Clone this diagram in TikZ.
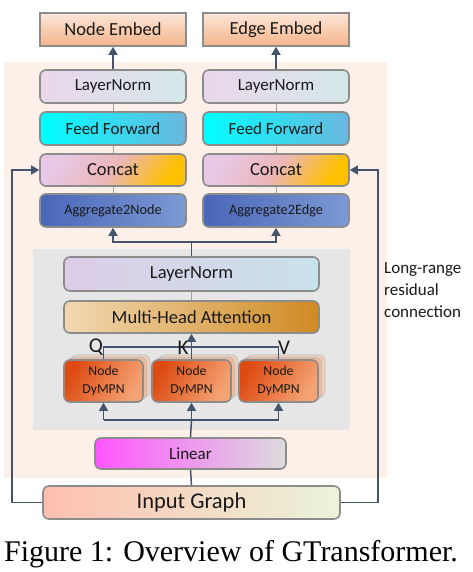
\documentclass[tikz,border=0pt]{standalone}
\usepackage{fontspec}
\setmainfont{Carlito}
\newfontfamily\capfont{Liberation Serif}
\usetikzlibrary{arrows.meta}
\definecolor{boxgray}{HTML}{8C8C8C}
\definecolor{lnc}{HTML}{44546A}
\definecolor{txt}{HTML}{1A1A1A}
\definecolor{peachbg}{HTML}{FDF0E8}
\definecolor{graybg}{HTML}{E6E6E6}
\definecolor{sepc}{HTML}{A0A0A0}
\begin{document}
\begin{tikzpicture}[x=1pt,y=-1pt,
  box/.style={draw=boxgray, line width=1.6pt, rounded corners=6pt, inner sep=0pt, text=txt},
  sqbox/.style={draw=boxgray, line width=1.6pt, inner sep=0pt, text=txt},
  colbox/.style={box, minimum width=146pt, minimum height=33pt},
  conn/.style={draw=lnc, line width=1.5pt},
  arr/.style={conn, -{Triangle[length=8pt,width=9pt]}},
  sepline/.style={draw=sepc, line width=1pt},
  fA/.style={font=\fontsize{18.5}{20}\selectfont},
  fB/.style={font=\fontsize{17}{20}\selectfont},
  fC/.style={font=\fontsize{14.3}{17}\selectfont},
  fD/.style={font=\fontsize{13.7}{18}\selectfont, align=center},
  embedfill/.style={top color=embtop, bottom color=embbot},
  lnfill/.style={left color=lnl, right color=lnr},
  fffill/.style={left color=ffl, right color=ffr},
  ccfill/.style={left color=ccl, right color=ccr, middle color=ccm, shading angle=55},
  agfill/.style={left color=agl, right color=agr},
  dyfill/.style={left color=dyl, right color=dyr, shading angle=60},
  qkv/.style={font=\fontsize{21}{22}\selectfont, text=txt, inner sep=0pt},
]
\definecolor{embtop}{HTML}{FCE6D8}
\definecolor{embbot}{HTML}{F4B48A}
\definecolor{lnl}{HTML}{EAD6EA}
\definecolor{lnr}{HTML}{D4E8EA}
\definecolor{ffl}{HTML}{00FFFF}
\definecolor{ffr}{HTML}{6BB6DE}
\definecolor{ccl}{HTML}{E8C8E6}
\definecolor{ccm}{HTML}{EBB6B8}
\definecolor{ccr}{HTML}{FFC000}
\definecolor{agl}{HTML}{4A66B8}
\definecolor{agr}{HTML}{7C9AD4}
\definecolor{mlnl}{HTML}{DDCDE8}
\definecolor{mlnr}{HTML}{C8E2EC}
\definecolor{mhal}{HTML}{F2D8B2}
\definecolor{mhar}{HTML}{CF8A22}
\definecolor{dyl}{HTML}{DE4A12}
\definecolor{dyr}{HTML}{F4A474}
\definecolor{dyback}{HTML}{F4B896}
\definecolor{linl}{HTML}{FF55FF}
\definecolor{linr}{HTML}{DCDCDC}
\definecolor{igl}{HTML}{FFBFB0}
\definecolor{igm}{HTML}{FBE6CE}
\definecolor{igr}{HTML}{EAF4DA}
\useasboundingbox (0,0) rectangle (472,572);
\fill[white] (0,0) rectangle (472,572);
% backgrounds
\fill[peachbg] (4,62) rectangle (387,478);
\fill[graybg] (33,249) rectangle (350,430);
% top embeds
\node[sqbox, minimum width=146pt, minimum height=33pt, embedfill, fA] (ne) at (113,29.5) {Node Embed};
\node[sqbox, minimum width=146pt, minimum height=33pt, embedfill, fA] (ee) at (276,29.5) {Edge Embed};
% left column
\node[colbox, lnfill, fB] (ln1) at (113,86.5) {LayerNorm};
\node[colbox, fffill, fB] (ff1) at (113,128.5) {Feed Forward};
\node[colbox, minimum height=32pt, ccfill, fA] (cc1) at (113,170) {Concat};
\node[colbox, agfill, fC] (ag1) at (113,210.5) {Aggregate2Node};
% right column
\node[colbox, lnfill, fB] (ln2) at (276,86.5) {LayerNorm};
\node[colbox, fffill, fB] (ff2) at (276,128.5) {Feed Forward};
\node[colbox, minimum height=32pt, ccfill, fA] (cc2) at (276,170) {Concat};
\node[colbox, agfill, fC] (ag2) at (276,210.5) {Aggregate2Edge};
% middle
\node[box, minimum width=255pt, minimum height=34pt, left color=mlnl, right color=mlnr, fA] (ln3) at (191.5,274) {LayerNorm};
\node[box, minimum width=255pt, minimum height=32pt, left color=mhal, right color=mhar, fA] (mha) at (191.5,317) {Multi-Head Attention};
% DyMPN stacks (back layers)
\foreach \cx in {103.5,191.5,278.5}{
  \draw[draw=boxgray!45, line width=1.2pt, rounded corners=6pt, fill=dyback!70] (\cx-39.5+7,360-5) rectangle (\cx+39.5+7,402-5);
  \draw[draw=boxgray!55, line width=1.2pt, rounded corners=6pt, fill=dyback] (\cx-39.5+3.5,360-2.5) rectangle (\cx+39.5+3.5,402-2.5);
}
\node[box, minimum width=79pt, minimum height=42pt, dyfill, fD] (d1) at (103.5,381) {Node\\DyMPN};
\node[box, minimum width=79pt, minimum height=42pt, dyfill, fD] (d2) at (191.5,381) {Node\\DyMPN};
\node[box, minimum width=79pt, minimum height=42pt, dyfill, fD] (d3) at (278.5,381) {Node\\DyMPN};
% linear and input
\node[box, minimum width=191pt, minimum height=31pt, left color=linl, right color=linr, fB] (lin) at (190.5,453.5) {Linear};
\node[box, minimum width=297pt, minimum height=33pt, left color=igl, middle color=igm, right color=igr, font=\fontsize{22.5}{24}\selectfont] (ig) at (191.5,502.5) {Input Graph};
% separators
\draw[sepline] (ln1.south) -- (ff1.north);
\draw[sepline] (ff1.south) -- (cc1.north);
\draw[sepline] (cc1.south) -- (ag1.north);
\draw[sepline] (ln2.south) -- (ff2.north);
\draw[sepline] (ff2.south) -- (cc2.north);
\draw[sepline] (cc2.south) -- (ag2.north);
\draw[sepline] (ln3.south) -- (mha.north);
% embed arrows
\draw[arr] (ln1.north) -- (ne.south);
\draw[arr] (ln2.north) -- (ee.south);
% branch to aggregates
\coordinate (br) at (191.5,242);
\draw[conn] (ln3.north) -- (br);
\draw[arr] (br) -| (ag1.south);
\draw[arr] (br) -| (ag2.south);
% QKV
\coordinate (hq) at (103.5,347);
\coordinate (hv) at (278.5,347);
\draw[conn] (d1.north) -- (hq) -- (hv) -- (d3.north);
\draw[arr] (d2.north) -- (mha.south);
\node[qkv] (lq) at (96,347) {Q};
\node[qkv] (lk) at (183,348) {K};
\node[qkv] (lv) at (284,348) {V};
% bottom fan
\coordinate (bq) at (103.5,420);
\coordinate (bk) at (191.5,420);
\coordinate (bv) at (278.5,420);
\draw[conn] (lin.north) -- (bk);
\draw[conn] (bq) -- (bv);
\draw[arr] (bq) -- (d1.south);
\draw[arr] (bk) -- (d2.south);
\draw[arr] (bv) -- (d3.south);
\draw[conn] (lin.south) -- (ig.north);
% residual
\coordinate (rl) at (12,170);
\coordinate (rr) at (378,170);
\draw[arr] (ig.west) -| (rl) -- (cc1.west);
\draw[arr] (ig.east) -| (rr) -- (cc2.east);
\node[anchor=north west, align=left, inner sep=0pt, text=txt, font=\fontsize{17}{22}\selectfont] (lbl) at (384,262) {Long-range\\residual\\connection};
% caption
\node[anchor=base, inner sep=0pt, font=\capfont\fontsize{30}{32}\selectfont] (cap) at (231,561) {Figure 1: Overview of GTransformer.};
\end{tikzpicture}
\end{document}
